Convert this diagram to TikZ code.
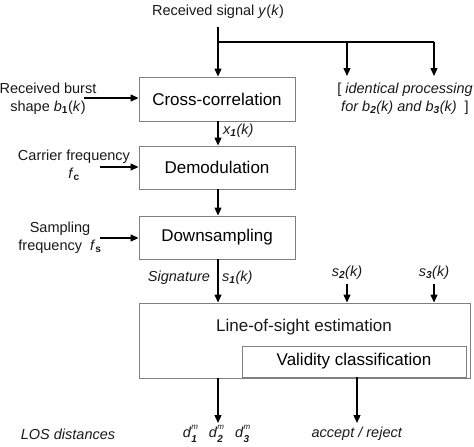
\documentclass[tikz,border=0pt]{standalone}
\usepackage{fontspec}
\setmainfont{Liberation Sans}
\usetikzlibrary{arrows.meta}
\newcommand\lbl{\fontsize{14.5}{18}\selectfont}
\newcommand\bxf{\fontsize{17}{20}\selectfont}
\newcommand\sbb[1]{\textsubscript{\bfseries #1}}
\newcommand\dmm[1]{\textit{d}\makebox[0pt][l]{\raisebox{1.0ex}{\fontsize{8}{8}\selectfont\itshape m}}\raisebox{-0.6ex}{\fontsize{10}{10}\selectfont\bfseries\itshape #1}}
\begin{document}
\begin{tikzpicture}[x=1pt,y=-1pt,
  box/.style={draw=black!50,line width=0.9pt,fill=white,inner sep=0pt},
  arr/.style={line width=1.3pt,-{Triangle[length=8pt,width=7pt]}},
  ln/.style={line width=1.3pt},
  txt/.style={inner sep=0pt,font=\lbl,text=black!90}]
\useasboundingbox (0,0) rectangle (474,447);
% boxes
\node[box,minimum width=156pt,minimum height=44pt,font=\bxf] (cc) at (217,99) {Cross-correlation};
\node[box,minimum width=156pt,minimum height=43pt,font=\bxf] (dem) at (217,167.5) {Demodulation};
\node[box,minimum width=156pt,minimum height=43pt,font=\bxf] (ds) at (217,237.5) {Downsampling};
\node[box,minimum width=331pt,minimum height=75pt] (los) at (304.5,340.5) {};
\node[txt,font=\bxf] (lost) at (304,327) {Line-of-sight estimation};
\node[box,minimum width=224pt,minimum height=31pt,font=\bxf] (vc) at (354,361.5) {Validity classification};
% labels
\node[txt] (ysig) at (218,12) {Received signal \textit{y}(\textit{k})};
\node[txt,align=center] (burst) at (48,99) {Received burst\\ shape \textit{b}\sbb{1}(\textit{k})};
\node[txt,align=center] (ident) at (405,99) {[ \textit{identical processing}\\ \textit{for b\sbb{2}(k) and b\sbb{3}(k)}\ \ ]};
\node[txt,anchor=west] (x1) at (223,131) {\textit{x\sbb{1}(k)}};
\node[txt,align=center] (carrier) at (74,165) {Carrier frequency\\ \textit{f}\sbb{c}};
\node[txt,align=center] (sampl) at (60,238) {Sampling\\ frequency\ \ \textit{f}\sbb{s}};
\node[txt] (sig) at (179,278) {\textit{Signature}};
\node[txt,anchor=west] (s1) at (222,278) {\textit{s\sbb{1}(k)}};
\node[txt] (s2) at (347,273) {\textit{s\sbb{2}(k)}};
\node[txt] (s3) at (434,273) {\textit{s\sbb{3}(k)}};
\node[txt] (losd) at (68,434) {\textit{LOS distances}};
\node[txt] (dd) at (216,434) {\dmm{1}\ \ \ \dmm{2}\ \ \ \dmm{3}};
\node[txt] (acc) at (357,434) {\textit{accept / reject}};
% coordinates
\coordinate (ystart) at (218,27);
\coordinate (split) at (218,42);
\coordinate (t1) at (347,42);
\coordinate (t2) at (434,42);
\coordinate (e1) at (347,76);
\coordinate (e2) at (434,76);
\coordinate (bst) at (84,98);
\coordinate (cst) at (100,167);
\coordinate (sst) at (100,238);
\coordinate (s2s) at (347,284);
\coordinate (s3s) at (434,284);
\coordinate (d1e) at (218,423);
\coordinate (ace) at (357,423);
% connectors
\draw[arr] (ystart) -- (split) -- (split |- cc.north);
\draw[ln] (split) -- (t2);
\draw[arr] (t1) -- (e1);
\draw[arr] (t2) -- (e2);
\draw[arr] (bst) -- (cc.west |- bst);
\draw[arr] (cc.south -| split) -- (dem.north -| split);
\draw[arr] (cst) -- (dem.west |- cst);
\draw[arr] (dem.south -| split) -- (ds.north -| split);
\draw[arr] (sst) -- (ds.west |- sst);
\draw[arr] (ds.south -| split) -- (los.north -| split);
\draw[arr] (s2s) -- (s2s |- los.north);
\draw[arr] (s3s) -- (s3s |- los.north);
\draw[arr] (los.south -| split) -- (d1e);
\draw[arr] (vc.south -| ace) -- (ace);
\end{tikzpicture}
\end{document}
